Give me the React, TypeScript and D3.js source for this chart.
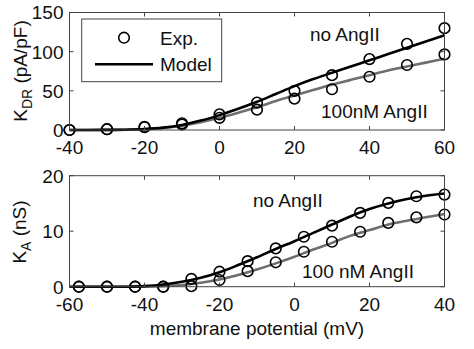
import React from "react";
import * as d3 from "d3";

// ---- Top panel (K_DR) data ----
const kdrExpV = [-40, -30, -20, -10, 0, 10, 20, 30, 40, 50, 60];
const kdrExpNo = [0, 1, 4, 8.5, 20, 35, 50, 70, 90.5, 110, 130];
const kdrExpAng = [0, 1, 3.5, 7, 15.5, 26, 40, 52, 68, 83, 96.5];
const kdrModelV = [-40, -35, -30, -25, -20, -15, -10, -5, 0, 5, 10, 15, 20, 25, 30, 35, 40, 45, 50, 55, 60];
const kdrModelNo = [0, 0, 0.1, 0.4, 1.2, 3, 6.5, 12, 19, 27, 36, 46, 56, 65, 73, 81, 89, 97, 105, 113, 121];
const kdrModelAng = [0, 0, 0.1, 0.4, 1, 2.5, 5.5, 10, 15.5, 22, 29, 37, 44, 51, 58, 64, 70, 76, 81, 86, 91];
const kdrXTicks = [-40, -20, 0, 20, 40, 60];
const kdrYTicks = [0, 50, 100, 150];

// ---- Bottom panel (K_A) data ----
const kaExpV = [-57.5, -50, -42.5, -35, -27.5, -20, -12.5, -5, 2.5, 10, 17.5, 25, 32.5, 40];
const kaExpNo = [0, 0, 0, 0, 1.4, 2.7, 4.6, 6.9, 9.0, 11.0, 13.3, 15.1, 16.3, 16.6];
const kaExpAng = [0, 0, 0, 0, 0.1, 1.2, 2.8, 4.4, 6.3, 8.1, 9.9, 11.5, 12.5, 13.0];
const kaModelV = [-60, -55, -50, -45, -40, -35, -30, -25, -20, -15, -10, -5, 0, 5, 10, 15, 20, 25, 30, 35, 40];
const kaModelNo = [0, 0, 0, 0, 0.1, 0.4, 0.9, 1.6, 2.6, 3.9, 5.3, 6.8, 8.2, 9.7, 11.2, 12.7, 14.0, 15.0, 15.8, 16.4, 16.8];
const kaModelAng = [0, 0, 0, 0, 0, 0.1, 0.3, 0.7, 1.3, 2.1, 3.1, 4.2, 5.4, 6.7, 7.9, 9.2, 10.2, 11.2, 11.9, 12.5, 13.1];
const kaXTicks = [-60, -40, -20, 0, 20, 40];
const kaYTicks = [0, 10, 20];

const FONT = "'Liberation Sans', Arial, sans-serif";
const FS = 19;
const AX = "#444";
const GREY = "#6e6e6e";

type PanelProps = {
  top: number;
  bottom: number;
  xDom: [number, number];
  yDom: [number, number];
  xTicks: number[];
  yTicks: number[];
  expV: number[];
  expNo: number[];
  expAng: number[];
  modV: number[];
  modNo: number[];
  modAng: number[];
};

const LEFT = 69.5;
const RIGHT = 444.5;

function Panel(p: PanelProps) {
  const x = d3.scaleLinear().domain(p.xDom).range([LEFT, RIGHT]);
  const y = d3.scaleLinear().domain(p.yDom).range([p.bottom, p.top]);
  const line = d3
    .line<number>()
    .x((_, i) => x(p.modV[i]))
    .y((d) => y(d))
    .curve(d3.curveCatmullRom);
  const tl = 4;
  return (
    <g>
      <path d={line(p.modAng) || ""} fill="none" stroke={GREY} strokeWidth={2.6} />
      <path d={line(p.modNo) || ""} fill="none" stroke="#000" strokeWidth={2.6} />
      {p.expV.map((v, i) => (
        <circle key={"a" + i} cx={x(v)} cy={y(p.expAng[i])} r={5.3} fill="none" stroke="#000" strokeWidth={1.6} />
      ))}
      {p.expV.map((v, i) => (
        <circle key={"n" + i} cx={x(v)} cy={y(p.expNo[i])} r={5.3} fill="none" stroke="#000" strokeWidth={1.6} />
      ))}
      <rect x={LEFT} y={p.top} width={RIGHT - LEFT} height={p.bottom - p.top} fill="none" stroke={AX} strokeWidth={1} />
      {p.xTicks.map((t) => (
        <g key={"xt" + t}>
          <line x1={x(t)} x2={x(t)} y1={p.bottom} y2={p.bottom - tl} stroke={AX} />
          <line x1={x(t)} x2={x(t)} y1={p.top} y2={p.top + tl} stroke={AX} />
          <text x={x(t)} y={p.bottom + 24} textAnchor="middle" fontSize={FS} fontFamily={FONT} fill="#111">
            {t}
          </text>
        </g>
      ))}
      {p.yTicks.map((t) => (
        <g key={"yt" + t}>
          <line x1={LEFT} x2={LEFT + tl} y1={y(t)} y2={y(t)} stroke={AX} />
          <line x1={RIGHT} x2={RIGHT - tl} y1={y(t)} y2={y(t)} stroke={AX} />
          <text x={LEFT - 6} y={y(t)} dy="0.36em" textAnchor="end" fontSize={FS} fontFamily={FONT} fill="#111">
            {t}
          </text>
        </g>
      ))}
    </g>
  );
}

export default function App() {
  return (
    <svg
      width={474}
      height={349}
      style={{ position: "absolute", left: 0, top: 0, display: "block", background: "#fff" }}
    >
      <Panel
        top={12.5}
        bottom={130}
        xDom={[-40, 60]}
        yDom={[0, 150]}
        xTicks={kdrXTicks}
        yTicks={kdrYTicks}
        expV={kdrExpV}
        expNo={kdrExpNo}
        expAng={kdrExpAng}
        modV={kdrModelV}
        modNo={kdrModelNo}
        modAng={kdrModelAng}
      />
      <Panel
        top={175.7}
        bottom={286.7}
        xDom={[-60, 40]}
        yDom={[0, 20]}
        xTicks={kaXTicks}
        yTicks={kaYTicks}
        expV={kaExpV}
        expNo={kaExpNo}
        expAng={kaExpAng}
        modV={kaModelV}
        modNo={kaModelNo}
        modAng={kaModelAng}
      />
      {/* Legend */}
      <rect x={81.7} y={19} width={140} height={62.7} fill="#fff" stroke={AX} strokeWidth={1} />
      <circle cx={124} cy={37.7} r={5.3} fill="none" stroke="#000" strokeWidth={1.6} />
      <text x={160} y={44.5} fontSize={FS} fontFamily={FONT} fill="#111">Exp.</text>
      <line x1={95} x2={153} y1={64.3} y2={64.3} stroke="#000" strokeWidth={2.6} />
      <text x={160} y={71} fontSize={FS} fontFamily={FONT} fill="#111">Model</text>
      {/* Annotations */}
      <text x={310} y={40.7} fontSize={FS} fontFamily={FONT} fill="#111">no AngII</text>
      <text x={321} y={118} fontSize={FS} fontFamily={FONT} fill="#111">100nM AngII</text>
      <text x={253} y={207} fontSize={FS} fontFamily={FONT} fill="#111">no AngII</text>
      <text x={302} y={278} fontSize={FS} fontFamily={FONT} fill="#111">100 nM AngII</text>
      {/* Axis labels */}
      <text x={257} y={335} textAnchor="middle" fontSize={FS} fontFamily={FONT} fill="#111">
        membrane potential (mV)
      </text>
      <text
        transform="translate(27,71) rotate(-90)"
        textAnchor="middle"
        fontSize={FS}
        fontFamily={FONT}
        fill="#111"
      >
        K<tspan fontSize={14} dy={5}>DR</tspan>
        <tspan dy={-5}> (pA/pF)</tspan>
      </text>
      <text
        transform="translate(26,232) rotate(-90)"
        textAnchor="middle"
        fontSize={FS}
        fontFamily={FONT}
        fill="#111"
      >
        K<tspan fontSize={14} dy={5}>A</tspan>
        <tspan dy={-5}> (nS)</tspan>
      </text>
    </svg>
  );
}
